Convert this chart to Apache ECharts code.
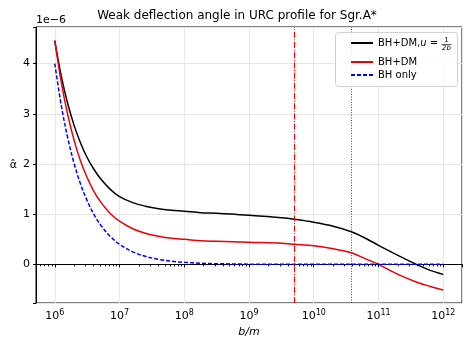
<!DOCTYPE html>
<html>
<head>
<meta charset="utf-8">
<script src="https://cdn.jsdelivr.net/npm/echarts@6/dist/echarts.min.js"></script>
<style>
  html, body { margin: 0; padding: 0; background: #fff; }
  #chart { width: 474px; height: 354px; }
</style>
</head>
<body>
<div id="chart"></div>
<script>
// impact parameter b/m
const bValues = [1.0e6, 1.26e6, 1.58e6, 2.0e6, 2.5e6, 3.16e6, 4.0e6, 5.0e6, 7.0e6, 1.0e7,
  1.6e7, 2.5e7, 4.0e7, 6.3e7, 1.0e8, 1.8e8, 3.2e8, 1.0e9, 3.2e9, 5.0e9,
  1.0e10, 2.0e10, 3.8e10, 6.3e10, 1.0e11, 2.0e11, 4.0e11, 6.3e11, 1.0e12]

// deflection angle, units of 1e-6
const bhDmU = [4.46, 3.75, 3.21, 2.76, 2.42, 2.13, 1.90, 1.72, 1.51, 1.35,
  1.23, 1.16, 1.11, 1.08, 1.06, 1.03, 1.02, 0.98, 0.93, 0.90,
  0.84, 0.76, 0.65, 0.52, 0.38, 0.18, -0.01, -0.12, -0.20]
const bhDm = [4.46, 3.63, 2.99, 2.46, 2.06, 1.73, 1.46, 1.26, 1.03, 0.86,
  0.71, 0.62, 0.56, 0.52, 0.50, 0.47, 0.46, 0.44, 0.42, 0.40,
  0.37, 0.31, 0.23, 0.11, 0.0, -0.20, -0.36, -0.44, -0.51]
const bhOnly = [4.0, 3.17, 2.53, 2.0, 1.6, 1.27, 1.0, 0.80, 0.57, 0.40,
  0.25, 0.16, 0.10, 0.063, 0.04, 0.022, 0.013, 0.004, 0.001, 0.001,
  0.0, 0.0, 0.0, 0.0, 0.0, 0.0, 0.0, 0.0, 0.0]

const redMark = [5.0e9]
const blackMark = [3.8e10]

const pairs = (ys) => bValues.map((b, i) => [b, ys[i]])
const font = 'DejaVu Sans'

const legendBase = {
  orient: 'vertical',
  left: 350, padding: 0, z: 120,
  itemWidth: 22, itemHeight: 10,
  itemStyle: { opacity: 0 },
  textStyle: {
    fontSize: 10, fontFamily: font, color: '#000',
    rich: {
      t: { fontSize: 10, fontFamily: font },
      i: { fontSize: 10, fontFamily: font, fontStyle: 'italic' },
      f: { fontSize: 10, fontFamily: font, width: 14 },
    },
  },
}

const chart = echarts.init(document.getElementById('chart'))
chart.setOption({
  animation: false,
  backgroundColor: '#fff',
  textStyle: { fontFamily: font, color: '#000' },
  title: [
    {
      text: 'Weak deflection angle in URC profile for Sgr.A*',
      left: 'center', top: 10, padding: 0,
      textStyle: { fontSize: 12, fontWeight: 'normal', fontFamily: font, color: '#000' },
    },
    {
      text: '1e\u22126',
      left: 36, top: 15, padding: 0,
      textStyle: { fontSize: 11, fontWeight: 'normal', fontFamily: font, color: '#000' },
    },
  ],
  grid: { left: 36, right: 12, top: 27, bottom: 51, show: true, borderColor: '#000', borderWidth: 1 },
  legend: [
    Object.assign({}, legendBase, {
      top: 38, data: ['BH+DM,u'],
      formatter: () => '{t|BH+DM,}{i|u}{t| = }{f|\u2003}',
    }),
    Object.assign({}, legendBase, {
      top: 57, itemGap: 3, data: ['BH+DM', 'BH only'],
    }),
  ],
  xAxis: {
    type: 'log', logBase: 10,
    min: 5.13e5, max: 1.95e12,
    name: 'b/m', nameLocation: 'middle', nameGap: 23,
    nameTextStyle: { fontSize: 11, fontStyle: 'italic', fontFamily: font, color: '#000' },
    axisLine: { show: true, lineStyle: { color: '#000', width: 1 } },
    axisTick: { show: true, length: 3, lineStyle: { color: '#000' } },
    minorTick: { show: true, splitNumber: 9, length: 2, lineStyle: { color: '#000' } },
    splitLine: { show: true, lineStyle: { color: '#e6e6e6', width: 1 } },
    axisLabel: {
      margin: 6,
      formatter: (v) => {
        const e = Math.log10(v)
        const r = Math.round(e)
        if (Math.abs(e - r) > 1e-6) return ''
        return '{a|10}{b|' + r + '}'
      },
      rich: {
        a: { fontSize: 11, fontFamily: font, color: '#000' },
        b: { fontSize: 8, fontFamily: font, color: '#000', padding: [0, 0, 6, 0] },
      },
    },
  },
  yAxis: {
    type: 'value',
    min: -0.77, max: 4.73,
    name: '\u03b1\u0302', nameLocation: 'middle', nameRotate: 0, nameGap: 18,
    nameTextStyle: { fontSize: 11, fontFamily: font, color: '#000' },
    axisLine: { show: true, lineStyle: { color: '#000', width: 1 } },
    axisTick: { show: true, length: 3, lineStyle: { color: '#000' } },
    splitLine: { show: true, lineStyle: { color: '#e6e6e6', width: 1 } },
    axisLabel: {
      fontSize: 11, color: '#000', margin: 6,
      formatter: (v) => Number.isInteger(v) ? String(v) : '',
    },
  },
  graphic: [
    { type: 'rect', z: 90, shape: { x: 335.5, y: 32.5, width: 122, height: 54, r: 3 }, style: { fill: 'rgba(255,255,255,0.85)', stroke: '#d0d0d0', lineWidth: 1 } },
    { type: 'text', z: 130, x: 446.5, y: 40.5, style: { text: '1', font: '7px DejaVu Sans', fill: '#000', align: 'center', verticalAlign: 'middle' } },
    { type: 'line', z: 130, shape: { x1: 441.5, y1: 44.5, x2: 451.5, y2: 44.5 }, style: { stroke: '#000', lineWidth: 0.6 } },
    { type: 'text', z: 130, x: 446.5, y: 48, style: { text: '2b', font: 'italic 7px DejaVu Sans', fill: '#000', align: 'center', verticalAlign: 'middle' } },
  ],
  series: [
    {
      name: 'BH+DM,u', type: 'line', data: pairs(bhDmU),
      showSymbol: false, symbol: 'none', smooth: 0.35,
      lineStyle: { color: '#000', width: 1.5 }, itemStyle: { color: '#000' },
      markLine: {
        silent: true, symbol: 'none', label: { show: false },
        lineStyle: { color: '#444', width: 1, type: [1, 1.6] },
        data: blackMark.map((v) => ({ xAxis: v })),
      },
    },
    {
      name: 'BH+DM', type: 'line', data: pairs(bhDm),
      showSymbol: false, symbol: 'none', smooth: 0.35,
      lineStyle: { color: '#e8000b', width: 1.5 }, itemStyle: { color: '#e8000b' },
      markLine: {
        silent: true, symbol: 'none', label: { show: false },
        lineStyle: { color: '#e8000b', width: 1, type: [6, 1.6, 1, 1.6] },
        data: redMark.map((v) => ({ xAxis: v })),
      },
    },
    {
      name: 'BH only', type: 'line', data: pairs(bhOnly),
      showSymbol: false, symbol: 'none', smooth: 0.35,
      lineStyle: { color: '#0000ff', width: 1.5, type: [4, 2] }, itemStyle: { color: '#0000ff' },
    },
  ],
})
</script>
</body>
</html>
